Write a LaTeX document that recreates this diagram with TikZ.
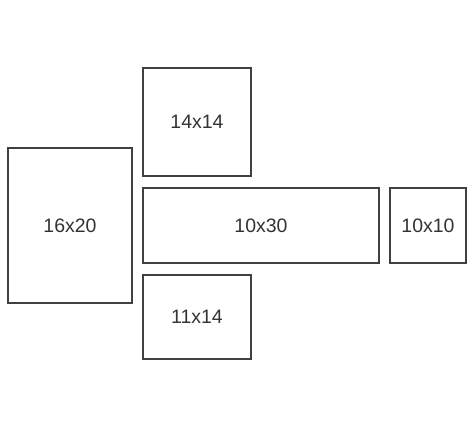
\documentclass[tikz,border=0pt]{standalone}
\usepackage{fontspec}
\setmainfont{Liberation Sans}
\usepackage{xcolor}
\usetikzlibrary{positioning}
\definecolor{FrameGray}{RGB}{64,64,64}
\definecolor{LabelGray}{RGB}{51,51,51}
\tikzset{
  frame/.style={draw=FrameGray, line width=1.6pt, fill=white, inner sep=0pt,
                font=\fontsize{14.6}{17}\selectfont, text=LabelGray}
}

\begin{document}
\begin{tikzpicture}[x=0.75pt, y=-0.75pt]
  \useasboundingbox (0,0) rectangle (474,427);
  % one frame per print size: name/centre/width/height/label
  \foreach \name/\cx/\cy/\w/\h/\size in {big/70/225.5/124/155/16x20,
      top/197/122/108/108/14x14, wide/261/225.5/236/75/10x30,
      small/428/225.5/76/75/10x10, low/197/317/108/84/11x14} {
    \node[frame, minimum width=\w*0.75pt, minimum height=\h*0.75pt]
          (\name) at (\cx,\cy) {\size};
  }
\end{tikzpicture}
\end{document}
